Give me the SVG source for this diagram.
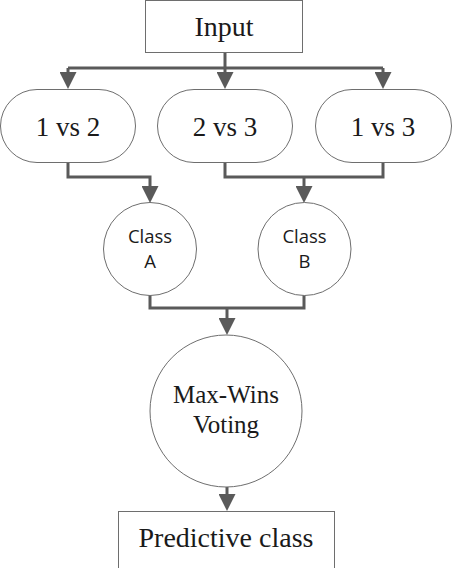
<svg xmlns="http://www.w3.org/2000/svg" width="452" height="568" viewBox="0 0 452 568">
<style>
.shape{fill:#fff;stroke:#6e6e6e;stroke-width:1}
.serif{font-family:"Liberation Serif","Times New Roman",serif;fill:#1a1a1a;text-anchor:middle}
.sans{font-family:"Open Sans","Noto Sans",sans-serif;fill:#1a1a1a;text-anchor:middle;font-size:18.5px}
.conn{fill:none;stroke:#5a5a5a;stroke-width:3}
</style>
<defs>
<marker id="ah" viewBox="0 0 17 17" refX="7" refY="8.5" markerWidth="17" markerHeight="17" markerUnits="userSpaceOnUse" orient="auto">
<path d="M0,0 L17,8.5 L0,17 z" fill="#5a5a5a"/>
</marker>
</defs>
<rect width="452" height="568" fill="#fff"/>
<g id="connectors">
<path class="conn" d="M225,53 V68"/>
<path class="conn" d="M68,68 H383"/>
<path class="conn" d="M68,68 V79" marker-end="url(#ah)"/>
<path class="conn" d="M225,68 V79" marker-end="url(#ah)"/>
<path class="conn" d="M383,68 V79" marker-end="url(#ah)"/>
<path class="conn" d="M68,163 V177 H150 V193" marker-end="url(#ah)"/>
<path class="conn" d="M225,163 V177 H383 V163"/>
<path class="conn" d="M304,177 V193" marker-end="url(#ah)"/>
<path class="conn" d="M150,295 V308 H304 V295"/>
<path class="conn" d="M227,308 V325" marker-end="url(#ah)"/>
<path class="conn" d="M227,487 V501" marker-end="url(#ah)"/>
</g>
<g id="input">
<rect class="shape" x="145.5" y="0.5" width="157" height="52"/>
<text class="serif" x="224" y="36" font-size="28">Input</text>
</g>
<g id="n1vs2">
<rect class="shape" x="0.5" y="89.5" width="135" height="73" rx="36.5"/>
<text class="serif" x="68" y="136" font-size="27">1 vs 2</text>
</g>
<g id="n2vs3">
<rect class="shape" x="157.5" y="89.5" width="135" height="73" rx="36.5"/>
<text class="serif" x="225" y="136" font-size="27">2 vs 3</text>
</g>
<g id="n1vs3">
<rect class="shape" x="315.5" y="89.5" width="136" height="73" rx="36.5"/>
<text class="serif" x="383" y="136" font-size="27">1 vs 3</text>
</g>
<g id="classA">
<circle class="shape" cx="150" cy="249" r="46.5"/>
<text class="sans" x="150" y="243">Class</text>
<text class="sans" x="150" y="268">A</text>
</g>
<g id="classB">
<circle class="shape" cx="304.5" cy="249" r="46.5"/>
<text class="sans" x="304.5" y="243">Class</text>
<text class="sans" x="304.5" y="268">B</text>
</g>
<g id="voting">
<circle class="shape" cx="226" cy="411" r="76"/>
<text class="serif" x="226" y="403" font-size="25">Max-Wins</text>
<text class="serif" x="226" y="433" font-size="25">Voting</text>
</g>
<g id="predictive">
<rect class="shape" x="118.5" y="511.5" width="216" height="70"/>
<text class="serif" x="226" y="547" font-size="28">Predictive class</text>
</g>
</svg>
